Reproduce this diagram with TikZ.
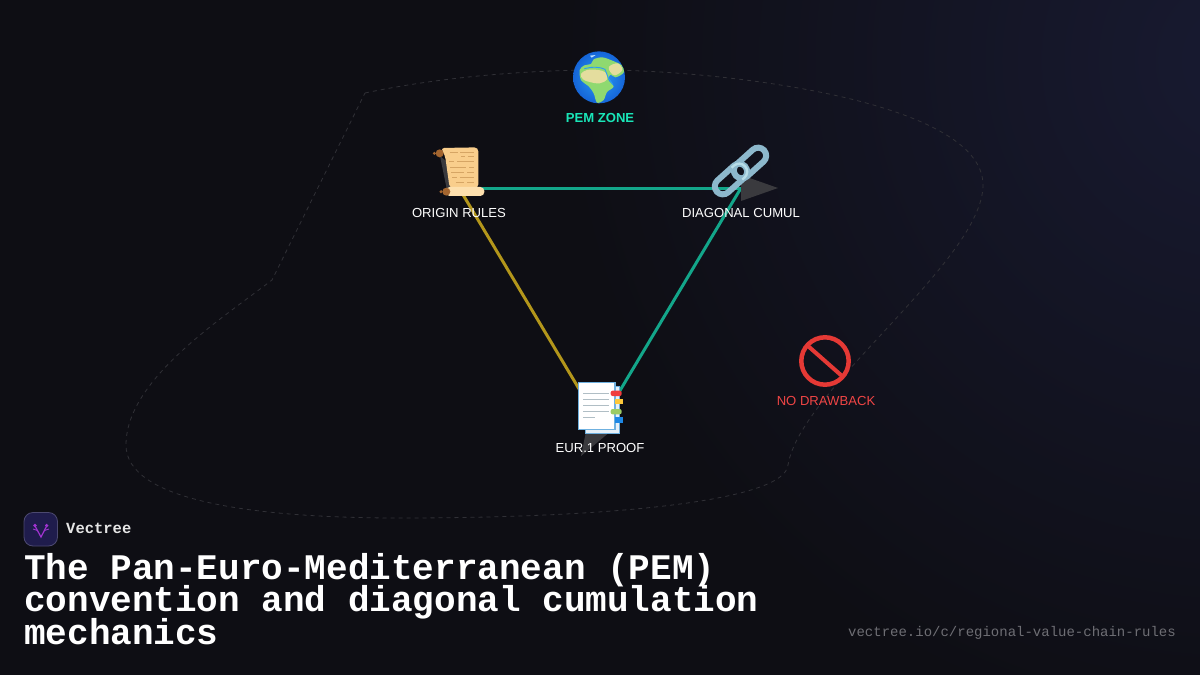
\documentclass[tikz,border=0pt]{standalone}
\usepackage{fontspec}
\setmainfont{Liberation Sans}
\setmonofont{Liberation Mono}
\usepackage{tikz}
\usetikzlibrary{positioning}
\setlength{\lineskiplimit}{-50pt}
\definecolor{bgdark}{HTML}{0E0E14}
\definecolor{bgblue}{HTML}{181A31}
\definecolor{tealedge}{HTML}{13A68A}
\definecolor{goldedge}{HTML}{B3961B}
\definecolor{headgray}{HTML}{3A3A3E}
\definecolor{zoneline}{HTML}{303036}
\definecolor{pemteal}{HTML}{19E6B8}
\definecolor{noredfg}{HTML}{F04545}
\definecolor{signred}{HTML}{E53935}
\definecolor{urlgray}{HTML}{6E6E74}
\definecolor{oceanlight}{HTML}{2A9DF4}
\definecolor{oceandark}{HTML}{1565D8}
\definecolor{landgreen}{HTML}{8FD970}
\definecolor{landtan}{HTML}{E4DD9E}
\definecolor{scrollpeach}{HTML}{F9CE8C}
\definecolor{scrollroll}{HTML}{FDE0AE}
\definecolor{scrollink}{HTML}{D6A564}
\definecolor{rollbrown}{HTML}{A3652F}
\definecolor{linkblue}{HTML}{8DB8CC}
\definecolor{linklight}{HTML}{B8DDE8}
\definecolor{pageblue}{HTML}{6FB1E0}
\definecolor{pageback}{HTML}{E6F0F8}
\definecolor{pagetext}{HTML}{B0BEC5}
\definecolor{tabred}{HTML}{EF3D3D}
\definecolor{tabyellow}{HTML}{FDC83A}
\definecolor{tabgreen}{HTML}{9CCC65}
\definecolor{tabblue}{HTML}{1E88E5}
\definecolor{logofill}{HTML}{1F1C4C}
\definecolor{logopurple}{HTML}{A033D0}

\begin{document}
\begin{tikzpicture}[
    x=1pt,y=-1pt,
    spot/.style={inner sep=0pt,outer sep=0pt,minimum size=0pt},
    nodetext/.style={inner sep=0pt,text=white,font=\fontsize{13.1}{15}\selectfont},
    edge/.style={line width=3pt},
    head/.style={fill=headgray},
    zoom/.style={shift={#1},x=0.3333pt,y=-0.3333pt},
    scrolltext/.style={draw=scrollink,line width=0.7pt},
    pageline/.style={draw=pagetext,line width=1.5pt},
    chainlink/.style={draw=linkblue,line width=6pt,rounded corners=8pt},
    chainshine/.style={draw=linklight,line width=2.4pt,rounded corners=8pt}
  ]
  \useasboundingbox (0,0) rectangle (1200,675);

  %% Background
  \fill[bgdark] (0,0) rectangle (1200,675);
  \begin{scope}
    \clip (0,0) rectangle (1200,675);
    \shade[inner color=bgblue,outer color=bgdark] (1240,60) circle (680);
  \end{scope}

  %% Zone outline
  \draw[zoneline,line width=0.8pt,dash pattern=on 4pt off 4pt]
    (365,93) .. controls (450,75) and (540,70) .. (600,70)
    .. controls (720,70) and (983,100) .. (983,185)
    .. controls (983,260) and (800,390) .. (788,465)
    .. controls (785,500) and (620,518) .. (400,518)
    .. controls (250,518) and (126,500) .. (126,445)
    .. controls (126,380) and (220,320) .. (272,280) -- cycle;

  %% Anchor points of the icons
  \node[spot] (pem) at (600,78) {};
  \node[spot] (origin) at (459,188) {};
  \node[spot] (diagonal) at (741,188) {};
  \node[spot] (proof) at (600,424) {};
  \node[spot] (drawback) at (825,361) {};

  %% Edges
  \draw[edge,tealedge] (origin) -- (diagonal);
  \draw[edge,tealedge] (diagonal) -- (proof);
  \draw[edge,goldedge] (proof) -- (origin);

  %% Arrow heads
  \fill[head] (741,175) -- (778,188) -- (741,201) -- cycle;
  \fill[head] (611,431) -- (581,456) -- (589,417) -- cycle;
  \fill[head] (470,181) -- (440,156) -- (448,195) -- cycle;

  %% Globe
  \begin{scope}[zoom={(565,45)}]
    \shade[inner color=oceanlight,outer color=oceandark] (102,97) circle (78);
    \clip (102,97) circle (78);
    \fill[landgreen] plot[smooth cycle,tension=0.5] coordinates {(44,75) (58,61) (78,57) (86,43) (112,37)
      (142,47) (170,61) (176,83) (152,97) (136,89) (130,105) (146,125) (126,141) (116,165) (96,173)
      (86,145) (72,125) (48,105)};
    \fill[landtan] plot[smooth cycle,tension=0.6] coordinates {(48,87) (66,75) (100,75) (122,83) (126,103)
      (104,115) (74,111) (54,103)};
    \fill[landtan] plot[smooth cycle,tension=0.6] coordinates {(132,65) (158,55) (172,75) (150,91) (136,81)};
    \draw[oceanlight,line width=0.9pt] (58,71) .. controls (80,65) and (105,65) .. (120,73) -- (130,99) -- (144,119);
    \fill[white!70!oceanlight] (75,32) -- (92,30) -- (80,38) -- cycle;
  \end{scope}
  \node[nodetext,text=pemteal,font=\fontsize{13.1}{15}\selectfont\bfseries,below=35pt of pem] (pemlabel) {PEM ZONE};

  %% Scroll
  \begin{scope}[zoom={(425,140)}]
    \fill[scrollpeach,rounded corners=4pt] (46,24) -- (160,22) -- (160,145) -- (74,145) -- (60,45) -- cycle;
    \foreach \ly/\lx/\lm/\ln in {37/74/98/106,50/108/120/128,63/72/88/96,82/76/124/132,97/78/118/126,112/82/96/104,128/92/118/126}{
      \draw[scrolltext] (\lx,\ly) -- (\lm,\ly);
      \draw[scrolltext] (\ln,\ly) -- (146,\ly);
    }
    \fill[scrollroll,rounded corners=4pt] (62,141) rectangle (178,168);
    \fill[rollbrown] (44,40) circle (12);
    \fill[rollbrown] (28,40) circle (5);
    \fill[rollbrown] (64,155) circle (12);
    \fill[rollbrown] (48,155) circle (5);
  \end{scope}
  \node[nodetext,below=20pt of origin] (originlabel) {ORIGIN RULES};

  %% Chain
  \begin{scope}[shift={(750,163)},rotate=42]
    \draw[chainlink] (-19,-8) rectangle (19,8);
  \end{scope}
  \begin{scope}[shift={(731,179)},rotate=42]
    \draw[chainlink] (-19,-8) rectangle (19,8);
    \draw[chainshine] (8,-8) -- (19,-8) -- (19,8) -- (8,8);
  \end{scope}
  \node[nodetext,below=20pt of diagonal] (diagonallabel) {DIAGONAL CUMUL};

  %% Proof document
  \begin{scope}[zoom={(530,370)}]
    \filldraw[fill=pageback,draw=pageblue,line width=1pt] (165,48) rectangle (268,190);
    \filldraw[fill=white,draw=pageblue,line width=1.2pt] (145,38) rectangle (255,178);
    \foreach \ly/\lx in {71/238,89/238,106/238,124/238,142/195}{
      \draw[pageline] (160,\ly) -- (\lx,\ly);
    }
    \fill[tabred,rounded corners=2pt] (242,62) rectangle (275,78);
    \fill[tabyellow] (255,87) rectangle (278,102);
    \fill[tabgreen,rounded corners=2pt] (242,117) rectangle (275,133);
    \fill[tabblue] (255,142) rectangle (278,158);
  \end{scope}
  \node[nodetext,below=19pt of proof] (prooflabel) {EUR.1 PROOF};

  %% Prohibited sign
  \draw[signred,line width=4.5pt] (drawback) circle (23.7);
  \draw[signred,line width=4pt] (808,346) -- (842,376);
  \node[nodetext,text=noredfg,below=35pt of drawback,xshift=1pt] (drawbacklabel) {NO DRAWBACK};

  %% Logo
  \filldraw[fill=logofill,draw=logofill!80!white,line width=0.8pt,rounded corners=9pt] (24,512.5) rectangle (57.5,546);
  \draw[logopurple,line width=1.2pt] (35,526) -- (41,537) -- (46.7,526);
  \draw[logopurple,line width=0.9pt] (33,529) -- (37.5,530.5) (49,529) -- (44.5,530.5);
  \fill[logopurple] (35,525.5) circle (1.8) (46.7,525.5) circle (1.8);
  \node[inner sep=0pt,anchor=west,text=white!90!black,font=\fontsize{15.5}{18}\selectfont\ttfamily\bfseries] (brand) at (66,528.5) {Vectree};

  %% Title and link
  \node[inner sep=0pt,anchor=north west,align=left,text=white,font=\fontsize{36}{32.4}\selectfont\ttfamily\bfseries] (headline) at (24,553)
    {The Pan-Euro-Mediterranean (PEM)\\convention and diagonal cumulation\\mechanics};
  \node[inner sep=0pt,anchor=east,text=urlgray,font=\fontsize{14}{16}\selectfont\ttfamily] (link) at (1176,633) {vectree.io/c/regional-value-chain-rules};
\end{tikzpicture}
\end{document}
